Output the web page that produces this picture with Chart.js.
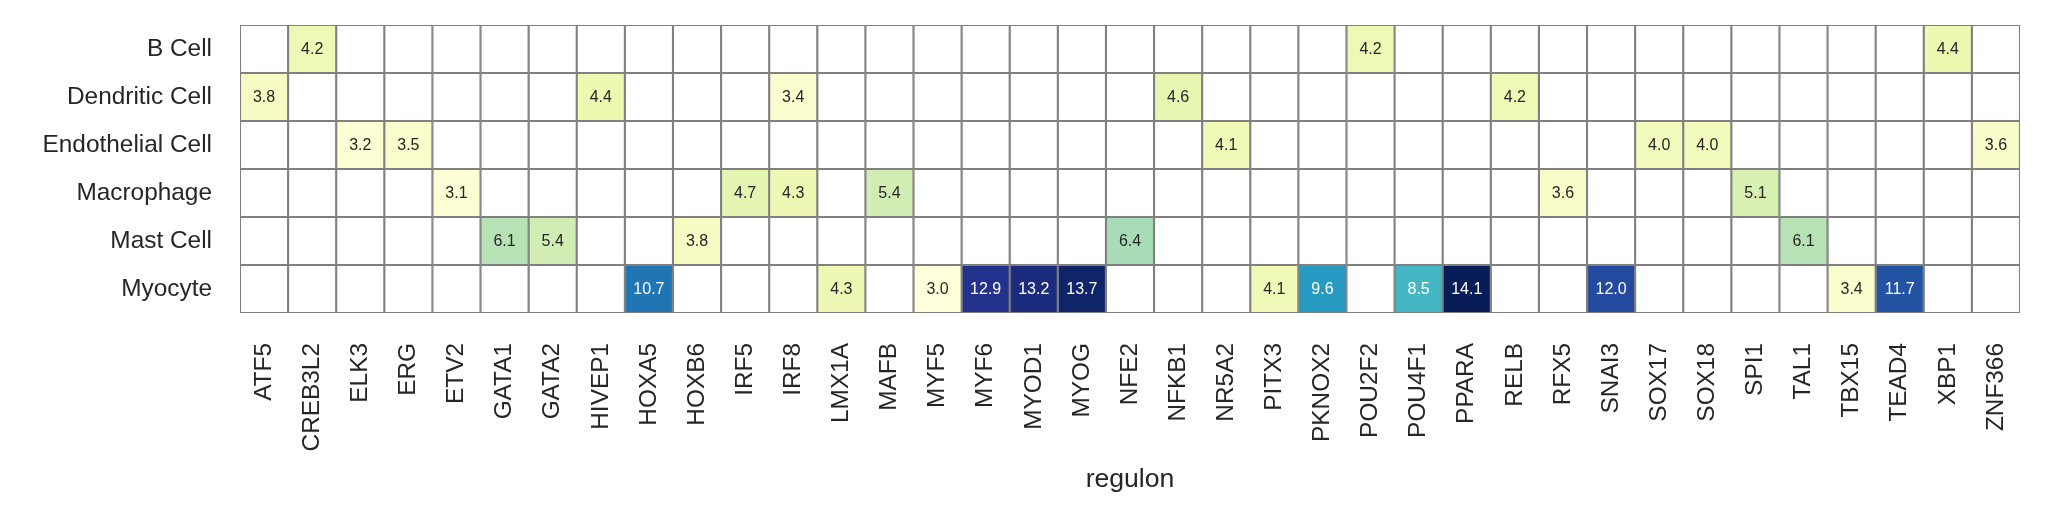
<!DOCTYPE html>
<html>
<head>
<meta charset="utf-8">
<script src="https://cdn.jsdelivr.net/npm/chart.js@4.4.1/dist/chart.umd.min.js"></script>
<style>
    html, body { margin: 0; padding: 0; background: #fff; }
    #wrap { width: 2068px; height: 518px; }
</style>
</head>
<body>
<div id="wrap"><canvas id="heat" width="2068" height="518"></canvas></div>
<script>
/* data */
const regulons = ['ATF5', 'CREB3L2', 'ELK3', 'ERG', 'ETV2', 'GATA1', 'GATA2', 'HIVEP1', 'HOXA5', 'HOXB6',
    'IRF5', 'IRF8', 'LMX1A', 'MAFB', 'MYF5', 'MYF6', 'MYOD1', 'MYOG', 'NFE2', 'NFKB1', 'NR5A2', 'PITX3',
    'PKNOX2', 'POU2F2', 'POU4F1', 'PPARA', 'RELB', 'RFX5', 'SNAI3', 'SOX17', 'SOX18', 'SPI1', 'TAL1',
    'TBX15', 'TEAD4', 'XBP1', 'ZNF366'];
const cellTypes = ['B Cell', 'Dendritic Cell', 'Endothelial Cell', 'Macrophage', 'Mast Cell', 'Myocyte'];

// one list per cell type, null = empty cell
const bCell       = [null, 4.2, null, null, null, null, null, null, null, null, null, null, null, null, null, null, null, null, null, null, null, null, null, 4.2, null, null, null, null, null, null, null, null, null, null, null, 4.4, null];
const dendritic   = [3.8, null, null, null, null, null, null, 4.4, null, null, null, 3.4, null, null, null, null, null, null, null, 4.6, null, null, null, null, null, null, 4.2, null, null, null, null, null, null, null, null, null, null];
const endothelial = [null, null, 3.2, 3.5, null, null, null, null, null, null, null, null, null, null, null, null, null, null, null, null, 4.1, null, null, null, null, null, null, null, null, 4.0, 4.0, null, null, null, null, null, 3.6];
const macrophage  = [null, null, null, null, 3.1, null, null, null, null, null, 4.7, 4.3, null, 5.4, null, null, null, null, null, null, null, null, null, null, null, null, null, 3.6, null, null, null, 5.1, null, null, null, null, null];
const mastCell    = [null, null, null, null, null, 6.1, 5.4, null, null, 3.8, null, null, null, null, null, null, null, null, 6.4, null, null, null, null, null, null, null, null, null, null, null, null, null, 6.1, null, null, null, null];
const myocyte     = [null, null, null, null, null, null, null, null, 10.7, null, null, null, 4.3, null, 3.0, 12.9, 13.2, 13.7, null, null, null, 4.1, 9.6, null, 8.5, 14.1, null, null, 12.0, null, null, null, null, 3.4, 11.7, null, null];

const rowValues = [bCell, dendritic, endothelial, macrophage, mastCell, myocyte];

/* YlGnBu colour map */
const ylGnBu = ['#ffffd9', '#edf8b1', '#c7e9b4', '#7fcdbb', '#41b6c4', '#1d91c0', '#225ea8', '#253494', '#081d58'];
const allVals = rowValues.flat().filter(v => v !== null);
const vMin = Math.min(...allVals);
const vMax = Math.max(...allVals);

function hexRgb(h) {
    return [parseInt(h.slice(1, 3), 16), parseInt(h.slice(3, 5), 16), parseInt(h.slice(5, 7), 16)];
}
function cmap(v) {
    let t = (v - vMin) / (vMax - vMin);
    t = Math.max(0, Math.min(1, t)) * (ylGnBu.length - 1);
    const i = Math.min(Math.floor(t), ylGnBu.length - 2);
    const f = t - i;
    const a = hexRgb(ylGnBu[i]), b = hexRgb(ylGnBu[i + 1]);
    return a.map((c, k) => Math.round(c + (b[k] - c) * f));
}
function luminance(rgb) {
    const lin = rgb.map(c => {
        c = c / 255;
        return c <= 0.03928 ? c / 12.92 : Math.pow((c + 0.055) / 1.055, 2.4);
    });
    return 0.2126 * lin[0] + 0.7152 * lin[1] + 0.0722 * lin[2];
}

const FONT = "'Liberation Sans', Arial, sans-serif";
const textDark = '#262626';

/* one floating-bar dataset per cell type */
const datasets = cellTypes.map((name, r) => ({
    label: name,
    data: regulons.map(() => [r, r + 1]),
    values: rowValues[r],
    backgroundColor: rowValues[r].map(v => v === null ? '#ffffff' : `rgb(${cmap(v).join(',')})`),
    borderColor: '#808080',
    borderWidth: 1.4,
    borderSkipped: false,
    grouped: false,
    barPercentage: 1,
    categoryPercentage: 1
}));

/* cell annotations */
const annotate = {
    id: 'annotate',
    afterDatasetsDraw(chart) {
        const ctx = chart.ctx;
        ctx.save();
        ctx.font = `16px ${FONT}`;
        ctx.textAlign = 'center';
        ctx.textBaseline = 'middle';
        chart.data.datasets.forEach((ds, di) => {
            const meta = chart.getDatasetMeta(di);
            meta.data.forEach((bar, i) => {
                const v = ds.values[i];
                if (v === null) return;
                const p = bar.getCenterPoint();
                ctx.fillStyle = luminance(cmap(v)) > 0.408 ? textDark : '#ffffff';
                ctx.fillText(v.toFixed(1), p.x, p.y + 1);
            });
        });
        ctx.restore();
    }
};

new Chart(document.getElementById('heat'), {
    type: 'bar',
    data: { labels: regulons, datasets: datasets },
    options: {
        responsive: false,
        animation: false,
        layout: { padding: { top: 25, right: 48, left: 0, bottom: 0 } },
        plugins: {
            legend: { display: false },
            tooltip: { enabled: false }
        },
        scales: {
            x: {
                type: 'category',
                offset: true,
                grid: { display: false, drawTicks: false },
                border: { display: false },
                ticks: {
                    color: textDark,
                    font: { family: FONT, size: 24.4 },
                    minRotation: 90,
                    maxRotation: 90,
                    padding: 30,
                    autoSkip: false
                },
                title: {
                    display: true,
                    text: 'regulon',
                    color: textDark,
                    font: { family: FONT, size: 26.6 },
                    padding: { top: 0, bottom: 22 }
                },
                afterFit: (scale) => {
                    scale.height = 205;
                    scale.paddingLeft = 0;
                    scale.paddingRight = 0;
                }
            },
            y: {
                type: 'linear',
                min: 0,
                max: cellTypes.length,
                reverse: true,
                grid: { display: false, drawTicks: false },
                border: { display: false },
                afterBuildTicks: (scale) => {
                    scale.ticks = cellTypes.map((c, i) => ({ value: i + 0.5 }));
                },
                ticks: {
                    color: textDark,
                    font: { family: FONT, size: 24.4 },
                    padding: 28,
                    callback: (value) => cellTypes[Math.floor(value)]
                },
                afterFit: (scale) => {
                    scale.width = 240;
                    scale.paddingTop = 0;
                    scale.paddingBottom = 0;
                }
            }
        }
    },
    plugins: [annotate]
});
</script>
</body>
</html>
